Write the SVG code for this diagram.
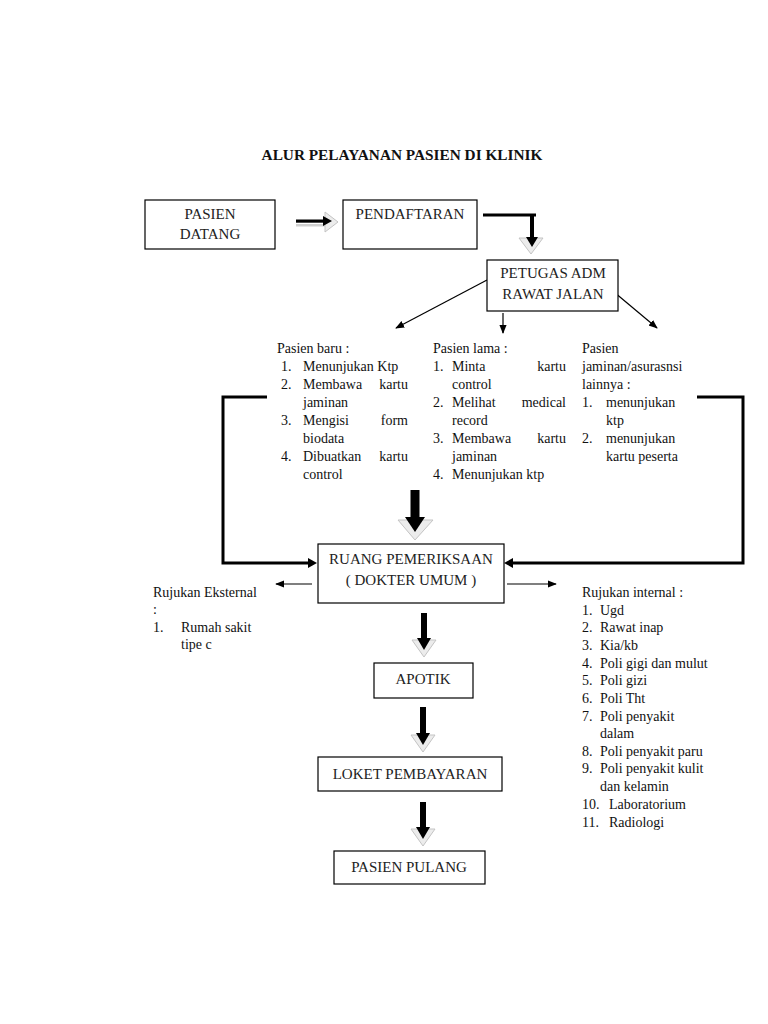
<svg xmlns="http://www.w3.org/2000/svg" width="768" height="1024" viewBox="0 0 768 1024">
<style>
.box{fill:#fff;stroke:#000;stroke-width:1.2}
.bt{font-family:"Liberation Serif","Times New Roman",serif;font-size:15px;fill:#222;text-anchor:middle}
.tx{font-family:"Liberation Serif","Times New Roman",serif;font-size:14px;fill:#111}
.txr{font-family:"Liberation Serif","Times New Roman",serif;font-size:14px;fill:#111;text-anchor:end}
.title{font-family:"Liberation Serif","Times New Roman",serif;font-size:15.3px;font-weight:bold;fill:#111;text-anchor:middle}
.thin{fill:none;stroke:#000;stroke-width:1.2}
.thick{fill:none;stroke:#000;stroke-width:3}
.gh{fill:#ececec;stroke:#c4c4c4;stroke-width:1}
.bk{fill:#000}
</style>
<defs>
<marker id="ah" viewBox="0 0 10 10" refX="9" refY="5" markerWidth="9" markerHeight="9" markerUnits="userSpaceOnUse" orient="auto">
<path d="M0,1 L10,5 L0,9 Z" fill="#000"/>
</marker>
</defs>
<rect width="768" height="1024" fill="#fff"/>
<text class="title" x="402" y="160">ALUR PELAYANAN PASIEN DI KLINIK</text>

<g id="connectors">
<!-- PASIEN DATANG -> PENDAFTARAN -->
<rect x="296" y="224" width="30" height="2.5" fill="#cfcfcf"/>
<polygon class="gh" points="325,212 338,222 325,232"/>
<rect class="bk" x="296" y="219.5" width="30" height="3.2"/>
<polygon class="bk" points="323,216 332,221 323,226"/>
<!-- PENDAFTARAN -> PETUGAS -->
<path class="thick" d="M483,215 H536"/>
<polygon class="gh" points="519,238 543,238 531,254"/>
<rect class="bk" x="530" y="215" width="4" height="26"/>
<polygon class="bk" points="526,237 538,237 532,247"/>
<!-- PETUGAS -> columns -->
<line class="thin" x1="487" y1="280" x2="396" y2="328" marker-end="url(#ah)"/>
<line class="thin" x1="503" y1="313" x2="503" y2="333" marker-end="url(#ah)"/>
<line class="thin" x1="608" y1="287" x2="657" y2="328" marker-end="url(#ah)"/>
<!-- brackets -->
<path class="thick" d="M267,397 H223 V563 H310"/>
<polygon class="bk" points="308,558 317,563 308,568"/>
<path class="thick" d="M697,397 H743 V563 H512"/>
<polygon class="bk" points="513,558 504,563 513,568"/>
<!-- big arrow to RUANG -->
<polygon class="gh" points="398,520 433,520 415,540"/>
<rect class="bk" x="410.5" y="490" width="9" height="32"/>
<polygon class="bk" points="405,517 425,517 415,532"/>
<!-- referrals -->
<line class="thin" x1="312" y1="584" x2="276" y2="584" marker-end="url(#ah)"/>
<line class="thin" x1="507" y1="584" x2="556" y2="584" marker-end="url(#ah)"/>
<!-- RUANG -> APOTIK -->
<polygon class="gh" points="412,640 436,640 424,657"/>
<rect class="bk" x="421" y="613" width="6" height="30"/>
<polygon class="bk" points="417,638 431,638 424,650"/>
<!-- APOTIK -> LOKET -->
<polygon class="gh" points="411,735 435,735 423,752"/>
<rect class="bk" x="420" y="707" width="6" height="30"/>
<polygon class="bk" points="416,733 430,733 423,745"/>
<!-- LOKET -> PULANG -->
<polygon class="gh" points="411,829 435,829 423,846"/>
<rect class="bk" x="420" y="802" width="6" height="30"/>
<polygon class="bk" points="416,827 430,827 423,839"/>
</g>

<g id="pasien-datang">
<rect class="box" x="145" y="200" width="130" height="49"/>
<text class="bt" x="210" y="219">PASIEN</text>
<text class="bt" x="210" y="239">DATANG</text>
</g>
<g id="pendaftaran">
<rect class="box" x="343" y="200" width="134" height="49"/>
<text class="bt" x="410" y="219">PENDAFTARAN</text>
</g>
<g id="petugas">
<rect class="box" x="487" y="260" width="131" height="51"/>
<text class="bt" x="553" y="278">PETUGAS ADM</text>
<text class="bt" x="553" y="299">RAWAT JALAN</text>
</g>

<g id="pasien-baru">
<text class="tx" x="277" y="353">Pasien baru :</text>
<text class="tx" x="281" y="371">1.</text><text class="tx" x="303" y="371">Menunjukan Ktp</text>
<text class="tx" x="281" y="389">2.</text><text class="tx" x="303" y="389">Membawa</text><text class="txr" x="408" y="389">kartu</text>
<text class="tx" x="303" y="407">jaminan</text>
<text class="tx" x="281" y="425">3.</text><text class="tx" x="303" y="425">Mengisi</text><text class="txr" x="408" y="425">form</text>
<text class="tx" x="303" y="443">biodata</text>
<text class="tx" x="281" y="461">4.</text><text class="tx" x="303" y="461">Dibuatkan</text><text class="txr" x="408" y="461">kartu</text>
<text class="tx" x="303" y="479">control</text>
</g>
<g id="pasien-lama">
<text class="tx" x="433" y="353">Pasien lama :</text>
<text class="tx" x="433" y="371">1.</text><text class="tx" x="452" y="371">Minta</text><text class="txr" x="566" y="371">kartu</text>
<text class="tx" x="452" y="389">control</text>
<text class="tx" x="433" y="407">2.</text><text class="tx" x="452" y="407">Melihat</text><text class="txr" x="566" y="407">medical</text>
<text class="tx" x="452" y="425">record</text>
<text class="tx" x="433" y="443">3.</text><text class="tx" x="452" y="443">Membawa</text><text class="txr" x="566" y="443">kartu</text>
<text class="tx" x="452" y="461">jaminan</text>
<text class="tx" x="433" y="479">4.</text><text class="tx" x="452" y="479">Menunjukan ktp</text>
</g>
<g id="pasien-jaminan">
<text class="tx" x="582" y="353">Pasien</text>
<text class="tx" x="582" y="371">jaminan/asurasnsi</text>
<text class="tx" x="582" y="389">lainnya :</text>
<text class="tx" x="582" y="407">1.</text><text class="tx" x="606" y="407">menunjukan</text>
<text class="tx" x="606" y="425">ktp</text>
<text class="tx" x="582" y="443">2.</text><text class="tx" x="606" y="443">menunjukan</text>
<text class="tx" x="606" y="461">kartu peserta</text>
</g>

<g id="ruang-pemeriksaan">
<rect class="box" x="318" y="544" width="186" height="59"/>
<text class="bt" x="411" y="564">RUANG PEMERIKSAAN</text>
<text class="bt" x="411" y="585">( DOKTER UMUM )</text>
</g>
<g id="rujukan-eksternal">
<text class="tx" x="153" y="597">Rujukan Eksternal</text>
<text class="tx" x="153" y="614">:</text>
<text class="tx" x="153" y="632">1.</text><text class="tx" x="181" y="632">Rumah sakit</text>
<text class="tx" x="181" y="649">tipe c</text>
</g>
<g id="rujukan-internal">
<text class="tx" x="582" y="597">Rujukan internal :</text>
<text class="tx" x="582" y="615">1.</text><text class="tx" x="600" y="615">Ugd</text>
<text class="tx" x="582" y="632">2.</text><text class="tx" x="600" y="632">Rawat inap</text>
<text class="tx" x="582" y="650">3.</text><text class="tx" x="600" y="650">Kia/kb</text>
<text class="tx" x="582" y="668">4.</text><text class="tx" x="600" y="668">Poli gigi dan mulut</text>
<text class="tx" x="582" y="685">5.</text><text class="tx" x="600" y="685">Poli gizi</text>
<text class="tx" x="582" y="703">6.</text><text class="tx" x="600" y="703">Poli Tht</text>
<text class="tx" x="582" y="721">7.</text><text class="tx" x="600" y="721">Poli penyakit</text>
<text class="tx" x="600" y="738">dalam</text>
<text class="tx" x="582" y="756">8.</text><text class="tx" x="600" y="756">Poli penyakit paru</text>
<text class="tx" x="582" y="773">9.</text><text class="tx" x="600" y="773">Poli penyakit kulit</text>
<text class="tx" x="600" y="791">dan kelamin</text>
<text class="tx" x="582" y="809">10.</text><text class="tx" x="609" y="809">Laboratorium</text>
<text class="tx" x="582" y="827">11.</text><text class="tx" x="609" y="827">Radiologi</text>
</g>

<g id="apotik">
<rect class="box" x="374" y="663" width="99" height="35"/>
<text class="bt" x="423" y="684">APOTIK</text>
</g>
<g id="loket-pembayaran">
<rect class="box" x="318" y="757" width="184" height="34"/>
<text class="bt" x="410" y="779">LOKET PEMBAYARAN</text>
</g>
<g id="pasien-pulang">
<rect class="box" x="334" y="851" width="151" height="33"/>
<text class="bt" x="409" y="872">PASIEN PULANG</text>
</g>
</svg>
